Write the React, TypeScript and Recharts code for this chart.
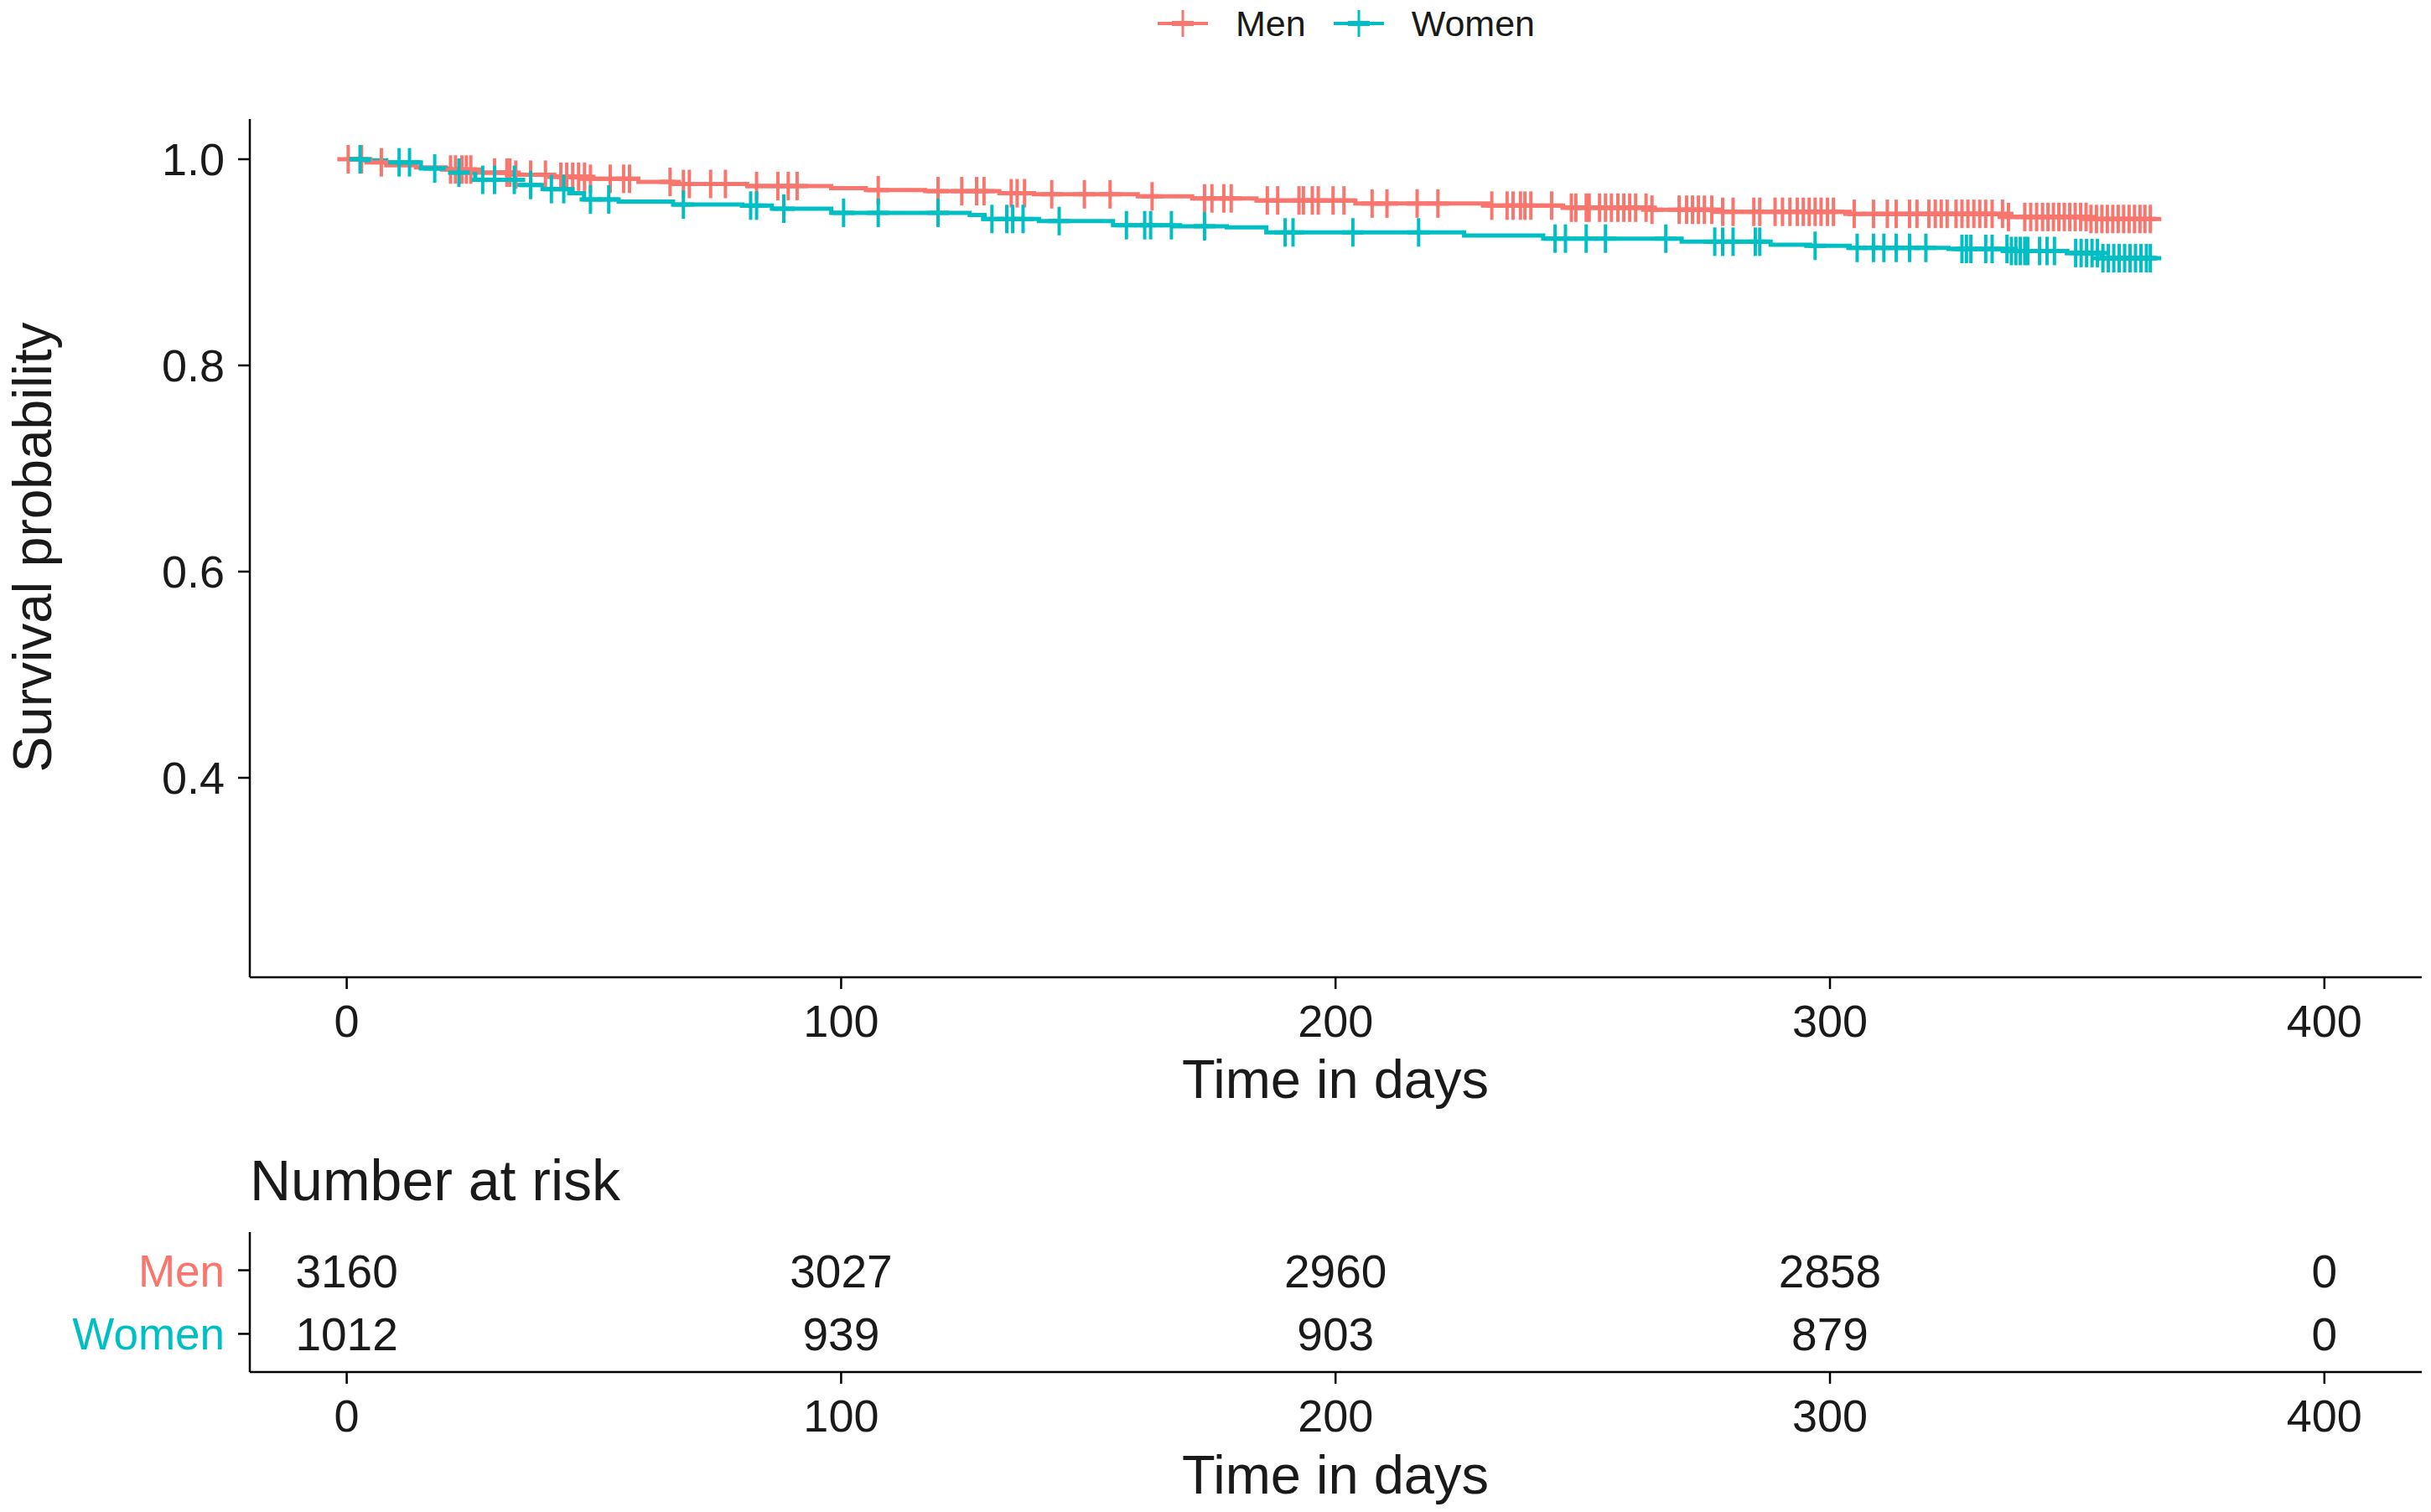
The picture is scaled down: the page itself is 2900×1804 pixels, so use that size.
import React from 'react';
import { ComposedChart, Line, Scatter, XAxis, YAxis, Legend } from 'recharts';

const FONT = '"Liberation Sans", Arial, Helvetica, sans-serif';
const TEXT = '#1a1a1a';
const MEN_COLOR = '#F8766D';
const WOMEN_COLOR = '#00BFC4';

// ---------- data ----------
const groups = ['Men', 'Women'];

const menTimes = [0, 4, 8, 14, 20, 26, 34, 41, 49, 59, 66, 81, 98, 105, 117, 132, 139, 160, 171, 184, 204, 231, 246, 264, 278, 304, 336, 352, 366];
const menSurv = [1.0, 0.997, 0.994, 0.992, 0.99, 0.987, 0.985, 0.983, 0.981, 0.978, 0.976, 0.974, 0.972, 0.97, 0.969, 0.967, 0.966, 0.964, 0.962, 0.96, 0.957, 0.955, 0.953, 0.951, 0.949, 0.947, 0.944, 0.942, 0.942];

const womenTimes = [0, 3, 8, 15, 21, 26, 34, 40, 45, 48, 55, 66, 80, 86, 98, 126, 129, 140, 155, 167, 178, 186, 226, 242, 270, 288, 296, 304, 324, 336, 348, 355, 366];
const womenSurv = [1.0, 0.999, 0.997, 0.991, 0.987, 0.98, 0.975, 0.971, 0.967, 0.961, 0.959, 0.956, 0.955, 0.952, 0.948, 0.946, 0.942, 0.94, 0.936, 0.935, 0.934, 0.929, 0.926, 0.923, 0.92, 0.917, 0.916, 0.914, 0.913, 0.911, 0.909, 0.904, 0.904];

const menCensorTimes = [0.3, 3, 7, 21, 22, 23.3, 24.2, 25.1, 29.9, 32.4, 33, 34.2, 37.2, 40.2, 43.3, 44.5, 45.7, 46.9, 48.1, 49.3, 53.3, 56, 57.2, 65.4, 68.1, 69.3, 73.6, 76.6, 82.9, 87.2, 89.3, 91.1, 107.5, 119.6, 124.4, 127.4, 128.9, 134.4, 135.6, 137.1, 142.6, 149.2, 154.4, 162.9, 173.5, 175, 177.4, 178.9, 186.2, 188.3, 192.6, 193.5, 195.3, 196.5, 199.5, 201.7, 207.4, 210.4, 216.5, 220.7, 231.6, 234.7, 235.9, 237.4, 238.3, 239.5, 243.7, 247.7, 248.6, 250.7, 251.3, 253.4, 254.6, 255.8, 257.1, 258.3, 259.5, 260.7, 262.8, 264, 269.5, 271, 272.2, 273.4, 274.6, 276.1, 278.3, 280.4, 284.6, 285.8, 288.9, 290.4, 291.9, 293.4, 294.6, 295.8, 297, 298.2, 299.5, 300.7, 304.9, 308.8, 311.6, 313.4, 316.1, 317.6, 320, 321.3, 322.5, 323.7, 325.5, 326.7, 327.9, 329.1, 330.3, 331.5, 332.8, 334.9, 336.1, 339.4, 340.6, 341.8, 343, 344.1, 345.2, 346.3, 347.4, 348.5, 349.6, 350.7, 351.8, 352.8, 353.9, 355, 356.1, 357.2, 358.3, 359.4, 360.5, 361.6, 362.7, 363.7, 364.8];

const womenCensorTimes = [2.7, 10.6, 12.7, 17.8, 22.7, 27.5, 29.9, 33.9, 37.2, 41.4, 43.9, 49.3, 53, 68.1, 81.7, 82.9, 88.4, 100.5, 107.5, 119.6, 130.5, 133.5, 134.7, 136.8, 144.1, 157.7, 161.4, 162.6, 166.8, 173.5, 189.8, 191.4, 203.5, 216.8, 244.4, 246.5, 250.7, 254.6, 266.8, 276.7, 278.3, 280.4, 284.9, 285.8, 297, 305.5, 308.8, 310.9, 313.4, 316.1, 319.4, 326.7, 327.6, 328.5, 331.5, 332.8, 335.8, 336.7, 337.6, 338.5, 339.4, 340, 342.4, 343.9, 345.4, 349.7, 350.8, 351.9, 353, 354.1, 355.2, 356.3, 357.4, 358.5, 359.6, 360.7, 361.8, 362.9, 364, 364.8];

const xTicks = [0, 100, 200, 300, 400];
const yTicks = [0.4, 0.6, 0.8, 1.0];
const riskTimes = [0, 100, 200, 300, 400];
const menAtRisk = [3160, 3027, 2960, 2858, 0];
const womenAtRisk = [1012, 939, 903, 879, 0];

// ---------- derived ----------
const X_DOMAIN: [number, number] = [-19.6, 419.7];
const Y_DOMAIN: [number, number] = [0.2065, 1.039];

const toSteps = (times: number[], survs: number[]) => times.map((t, i) => ({ t, s: survs[i] }));
const stepValue = (times: number[], survs: number[], t: number) => {
  let v = survs[0];
  for (let i = 0; i < times.length; i++) if (times[i] <= t) v = survs[i];
  return v;
};
const censorPoints = (ct: number[], times: number[], survs: number[]) =>
  ct.map((t) => ({ t, s: stepValue(times, survs, t) }));

const menLine = toSteps(menTimes, menSurv);
const womenLine = toSteps(womenTimes, womenSurv);
const menCensor = censorPoints(menCensorTimes, menTimes, menSurv);
const womenCensor = censorPoints(womenCensorTimes, womenTimes, womenSurv);

const groupColors = [MEN_COLOR, WOMEN_COLOR];
const rowOf: Record<number, string> = { 2: groups[0], 1: groups[1] };
const riskMen = riskTimes.map((t, i) => ({ t, r: 2, n: menAtRisk[i] }));
const riskWomen = riskTimes.map((t, i) => ({ t, r: 1, n: womenAtRisk[i] }));

// ---------- render helpers ----------
const makeCross = (color: string) => (props: any) => {
  const { cx, cy } = props;
  if (cx == null || cy == null) return <g />;
  return (
    <g stroke={color} fill="none">
      <path d={`M${cx - 13},${cy}H${cx + 13}`} strokeWidth={5} />
      <path d={`M${cx},${cy - 17}V${cy + 17}`} strokeWidth={4} />
    </g>
  );
};

const riskText = (props: any) => {
  const { cx, cy, payload } = props;
  if (cx == null || cy == null) return <g />;
  return (
    <text x={cx} y={cy + 20} textAnchor="middle" fontSize={55} fontFamily={FONT} fill={TEXT}>
      {payload?.n}
    </text>
  );
};

const XTick = (props: any) => {
  const { x, y, payload } = props;
  return (
    <text x={x} y={y + 40} textAnchor="middle" fontSize={54} fontFamily={FONT} fill={TEXT}>
      {payload.value}
    </text>
  );
};

const YTick = (props: any) => {
  const { x, y, payload } = props;
  return (
    <text x={x} y={y + 19} textAnchor="end" fontSize={54} fontFamily={FONT} fill={TEXT}>
      {Number(payload.value).toFixed(1)}
    </text>
  );
};

const RiskYTick = (props: any) => {
  const { x, y, payload } = props;
  const name = rowOf[payload.value];
  const color = groupColors[groups.indexOf(name)];
  return (
    <text x={x} y={y + 19} textAnchor="end" fontSize={53} fontFamily={FONT} fill={color}>
      {name}
    </text>
  );
};

const LegendContent = () => (
  <div style={{ height: 142, width: '100%' }}>
    <div
      style={{
        display: 'flex',
        justifyContent: 'center',
        alignItems: 'center',
        height: 56,
        paddingLeft: 323,
        boxSizing: 'border-box',
      }}
    >
      {groups.map((g, i) => (
        <div key={g} style={{ display: 'flex', alignItems: 'center', marginLeft: i ? 33 : 0 }}>
          <svg width={60} height={40} style={{ display: 'block' }}>
            <path d="M0,20H60" stroke={groupColors[i]} strokeWidth={4} />
            <path d="M17,20H43" stroke={groupColors[i]} strokeWidth={6} />
            <path d="M30,4V36" stroke={groupColors[i]} strokeWidth={3} />
          </svg>
          <span style={{ marginLeft: 33, fontSize: 43, fontFamily: FONT, color: TEXT, lineHeight: '56px' }}>{g}</span>
        </div>
      ))}
    </div>
  </div>
);

const axisStyle = { stroke: '#000', strokeWidth: 2.5 };

export default function App() {
  return (
    <div style={{ position: 'absolute', left: 0, top: 0, width: 2900, height: 1804, background: '#fff', overflow: 'hidden' }}>
      <div style={{ position: 'absolute', left: 0, top: 0 }}>
        <ComposedChart width={2900} height={1340} margin={{ top: 0, right: 11, left: 0, bottom: 0 }}>
          <Legend verticalAlign="top" align="center" content={LegendContent} />
          <XAxis
            type="number"
            dataKey="t"
            domain={X_DOMAIN}
            ticks={xTicks}
            allowDataOverflow
            height={174}
            tickSize={14}
            tickMargin={17}
            tick={XTick}
            axisLine={axisStyle}
            tickLine={axisStyle}
          />
          <YAxis
            type="number"
            dataKey="s"
            domain={Y_DOMAIN}
            ticks={yTicks}
            allowDataOverflow
            width={298}
            tickSize={14}
            tickMargin={16}
            tick={YTick}
            axisLine={axisStyle}
            tickLine={axisStyle}
          />
          <Line data={menLine} dataKey="s" type="stepAfter" stroke={MEN_COLOR} strokeWidth={5} dot={false} activeDot={false} isAnimationActive={false} name="Men" />
          <Scatter data={menCensor} dataKey="s" shape={makeCross(MEN_COLOR)} isAnimationActive={false} name="Men censor" />
          <Line data={womenLine} dataKey="s" type="stepAfter" stroke={WOMEN_COLOR} strokeWidth={5} dot={false} activeDot={false} isAnimationActive={false} name="Women" />
          <Scatter data={womenCensor} dataKey="s" shape={makeCross(WOMEN_COLOR)} isAnimationActive={false} name="Women censor" />
        </ComposedChart>
      </div>

      <div style={{ position: 'absolute', left: 0, top: 1340 }}>
        <ComposedChart width={2900} height={464} margin={{ top: 130, right: 11, left: 0, bottom: 0 }}>
          <XAxis
            type="number"
            dataKey="t"
            domain={X_DOMAIN}
            ticks={xTicks}
            allowDataOverflow
            height={167}
            tickSize={14}
            tickMargin={17}
            tick={XTick}
            axisLine={axisStyle}
            tickLine={axisStyle}
          />
          <YAxis
            type="number"
            dataKey="r"
            domain={[0.4, 2.6]}
            ticks={[1, 2]}
            allowDataOverflow
            width={298}
            tickSize={14}
            tickMargin={16}
            tick={RiskYTick}
            axisLine={axisStyle}
            tickLine={axisStyle}
          />
          <Scatter data={riskMen} dataKey="r" shape={riskText} isAnimationActive={false} />
          <Scatter data={riskWomen} dataKey="r" shape={riskText} isAnimationActive={false} />
        </ComposedChart>
      </div>

      <svg width={2900} height={1804} style={{ position: 'absolute', left: 0, top: 0, pointerEvents: 'none' }}>
        <text x={61} y={653} transform="rotate(-90 61 653)" textAnchor="middle" fontSize={64} fontFamily={FONT} fill={TEXT}>
          Survival probability
        </text>
        <text x={1593} y={1310} textAnchor="middle" fontSize={65} fontFamily={FONT} fill={TEXT}>
          Time in days
        </text>
        <text x={298} y={1432} textAnchor="start" fontSize={68} fontFamily={FONT} fill={TEXT}>
          Number at risk
        </text>
        <text x={1593} y={1782} textAnchor="middle" fontSize={65} fontFamily={FONT} fill={TEXT}>
          Time in days
        </text>
      </svg>
    </div>
  );
}
